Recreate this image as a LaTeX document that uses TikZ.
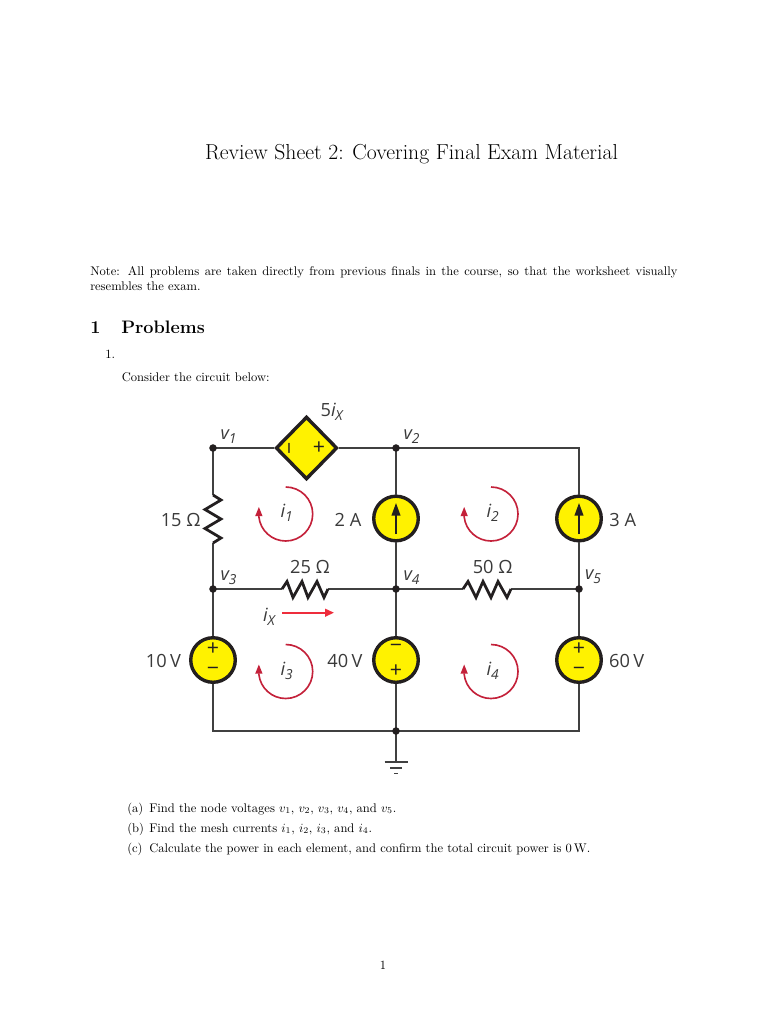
\documentclass[tikz,border=0pt]{standalone}
\usepackage{fontspec}
\newfontfamily\cf{Open Sans}
\usetikzlibrary{arrows.meta,shapes.geometric}
\definecolor{wirec}{HTML}{404040}
\definecolor{inkc}{HTML}{231F20}
\definecolor{yel}{HTML}{FFF200}
\definecolor{meshc}{HTML}{C4213A}
\definecolor{ixc}{HTML}{EE2D3C}
\definecolor{labc}{HTML}{3A3A3A}
\newcommand{\sv}[2]{{\itshape #1\kern-0.2pt\raisebox{-0.4ex}{\fontsize{11}{11}\selectfont #2}}}
\tikzset{
  x=0.796875pt,y=-0.796875pt,
  wire/.style={draw=wirec,line width=1.4pt},
  res/.style={draw=inkc,line width=2.2pt,line join=miter},
  junc/.style={circle,fill=inkc,inner sep=0pt,minimum size=6pt},
  src/.style={circle,draw=inkc,fill=yel,line width=2.7pt,inner sep=0pt,minimum size=35.5pt},
  dep/.style={diamond,draw=inkc,fill=yel,line width=2.7pt,inner sep=0pt,minimum width=49pt,minimum height=50pt},
  lab/.style={inner sep=0pt,text=labc,font=\cf\fontsize{14.5}{16}\selectfont},
  sgn/.style={inner sep=0pt,text=inkc,font=\cf\fontsize{17}{17}\selectfont},
  doc/.style={inner sep=0pt,anchor=base west,text=black,font=\fontsize{10}{12}\selectfont},
  mesh/.style={draw=meshc,line width=1.3pt,-{Triangle[length=7.5pt,width=5.5pt]}},
  srcarrow/.style={draw=inkc,line width=1.1pt,-{Triangle[length=10pt,width=7pt]}}
}
\begin{document}
\begin{tikzpicture}
\useasboundingbox[fill=white] (0,0) rectangle (768,1024);
% document text
\node[doc,anchor=base,font=\fontsize{17.28}{20}\selectfont] (title) at (411.5,159) {Review Sheet 2: Covering Final Exam Material};
\node[doc,anchor=north west,text width=468pt,align=justify] (note) at (90,266) {Note: All problems are taken directly from previous finals in the course, so that the worksheet visually resembles the exam.};
\node[doc,font=\fontsize{14.4}{17}\selectfont\bfseries] (secn) at (90,333) {1};
\node[doc,font=\fontsize{14.4}{17}\selectfont\bfseries] (sect) at (121,333) {Problems};
\node[doc] (item) at (105,358) {1.};
\node[doc] (cons) at (121.5,381) {Consider the circuit below:};
\node[doc] (ia) at (127,812) {(a)};
\node[doc] (ta) at (149,812) {Find the node voltages $v_1$, $v_2$, $v_3$, $v_4$, and $v_5$.};
\node[doc] (ib) at (127,832) {(b)};
\node[doc] (tb) at (149,832) {Find the mesh currents $i_1$, $i_2$, $i_3$, and $i_4$.};
\node[doc] (ic) at (127,852) {(c)};
\node[doc] (tc) at (149,852) {Calculate the power in each element, and confirm the total circuit power is 0\,W.};
\node[doc,anchor=base] (pg) at (383,969) {1};
% circuit elements
\node[dep] (D) at (306.5,448) {};
\node[src] (S2) at (396,518.5) {};
\node[src] (S3) at (579,518.5) {};
\node[src] (S10) at (213,660) {};
\node[src] (S40) at (396,660) {};
\node[src] (S60) at (579,660) {};
% junction positions and corners
\coordinate (n1) at (213,448);
\coordinate (n2) at (396,448);
\coordinate (n3) at (213,589);
\coordinate (n4) at (396,589);
\coordinate (n5) at (579,589);
\coordinate (n0) at (396,731);
\coordinate (ctr) at (579,448);
\coordinate (cbl) at (213,731);
\coordinate (cbr) at (579,731);
\coordinate (ra) at (213,495);
\coordinate (rb) at (213,543);
\coordinate (rc) at (282,589);
\coordinate (rd) at (328,589);
\coordinate (re) at (463,589);
\coordinate (rf) at (511,589);
\coordinate (g0) at (396,762);
% wires
\draw[wire] (n1) -- (D.west);
\draw[wire] (D.east) -- (n2);
\draw[wire] (n2) -- (ctr) -- (S3.north);
\draw[wire] (n2) -- (S2.north);
\draw[wire] (S2.south) -- (n4);
\draw[wire] (S3.south) -- (n5);
\draw[wire] (n1) -- (ra);
\draw[wire] (rb) -- (n3);
\draw[wire] (n3) -- (rc);
\draw[wire] (rd) -- (n4);
\draw[wire] (n4) -- (re);
\draw[wire] (rf) -- (n5);
\draw[wire] (n3) -- (S10.north);
\draw[wire] (n4) -- (S40.north);
\draw[wire] (n5) -- (S60.north);
\draw[wire] (S10.south) -- (cbl) -- (n0);
\draw[wire] (S40.south) -- (n0);
\draw[wire] (S60.south) -- (cbr) -- (n0);
\draw[wire] (n0) -- (g0);
% junction dots, over the wires
\node[junc] (d1) at (n1) {};
\node[junc] (d2) at (n2) {};
\node[junc] (d3) at (n3) {};
\node[junc] (d4) at (n4) {};
\node[junc] (d5) at (n5) {};
\node[junc] (d0) at (n0) {};
% ground
\draw[wire] (384.5,762) -- (407.5,762);
\draw[wire] (390,768) -- (402,768);
\draw[wire] (394,773.5) -- (398,773.5);
% resistors
\draw[res] (ra) -- (221,500) -- (205,509.5) -- (221,519) -- (205,528.5) -- (221,538) -- (rb);
\draw[res] (rc) -- (287,581.5) -- (293,597.5) -- (302,581.5) -- (308,597.5) -- (317,581.5) -- (324,597.5) -- (rd);
\draw[res] (re) -- (468,581.5) -- (476,597.5) -- (483,581.5) -- (491,597.5) -- (498,581.5) -- (507,597.5) -- (rf);
% source interiors
\draw[srcarrow] (396,534) -- (396,503);
\draw[srcarrow] (579,534) -- (579,503);
\node[sgn] (p10) at (213,649) {+};
\node[sgn] (m10) at (213,671.5) {−};
\node[sgn] (m40) at (396,648) {−};
\node[sgn] (p40) at (396,671) {+};
\node[sgn] (p60) at (579,649) {+};
\node[sgn] (m60) at (579,671.5) {−};
\node[sgn,rotate=90] (md) at (292.5,448) {−};
\node[sgn] (pd) at (319,448) {+};
% mesh currents
\coordinate (a1) at (285.7,487);
\coordinate (a2) at (491,487);
\coordinate (a3) at (285.7,644.5);
\coordinate (a4) at (491,644.5);
\draw[mesh] (a1) arc[start angle=-90,end angle=174,radius=27] -- ++(0,-10);
\draw[mesh] (a2) arc[start angle=-90,end angle=174,radius=27] -- ++(0,-10);
\draw[mesh] (a3) arc[start angle=-90,end angle=174,radius=27] -- ++(0,-10);
\draw[mesh] (a4) arc[start angle=-90,end angle=174,radius=27] -- ++(0,-10);
\coordinate (xa) at (282.3,612.7);
\coordinate (xb) at (334,612.7);
\draw[draw=ixc,line width=1.5pt,-{Triangle[length=7pt,width=6pt]}] (xa) -- (xb);
% labels
\node[lab] (lv1) at (228.5,437) {\sv{v}{1}};
\node[lab] (lv2) at (411.5,437) {\sv{v}{2}};
\node[lab] (lv3) at (228.5,578) {\sv{v}{3}};
\node[lab] (lv4) at (411.5,578) {\sv{v}{4}};
\node[lab] (lv5) at (593,577) {\sv{v}{5}};
\node[lab] (l15) at (180.7,520) {15 Ω};
\node[lab] (l2a) at (348,520) {2 A};
\node[lab] (l3a) at (622.7,520) {3 A};
\node[lab] (l25) at (310,567) {25 Ω};
\node[lab] (l50) at (492.7,567) {50 Ω};
\node[lab] (l10) at (163.5,661) {10\kern-1pt\ V};
\node[lab] (l40) at (345,661) {40\kern-1pt\ V};
\node[lab] (l60) at (626.7,661) {60\kern-1pt\ V};
\node[lab] (ldep) at (331.7,412) {5\sv{i}{X}};
\node[lab] (li1) at (286.7,513) {\sv{i}{1}};
\node[lab] (li2) at (492.7,513) {\sv{i}{2}};
\node[lab] (li3) at (286.7,671) {\sv{i}{3}};
\node[lab] (li4) at (492.7,671) {\sv{i}{4}};
\node[lab] (lix) at (269,617) {\sv{i}{X}};
\end{tikzpicture}
\end{document}
